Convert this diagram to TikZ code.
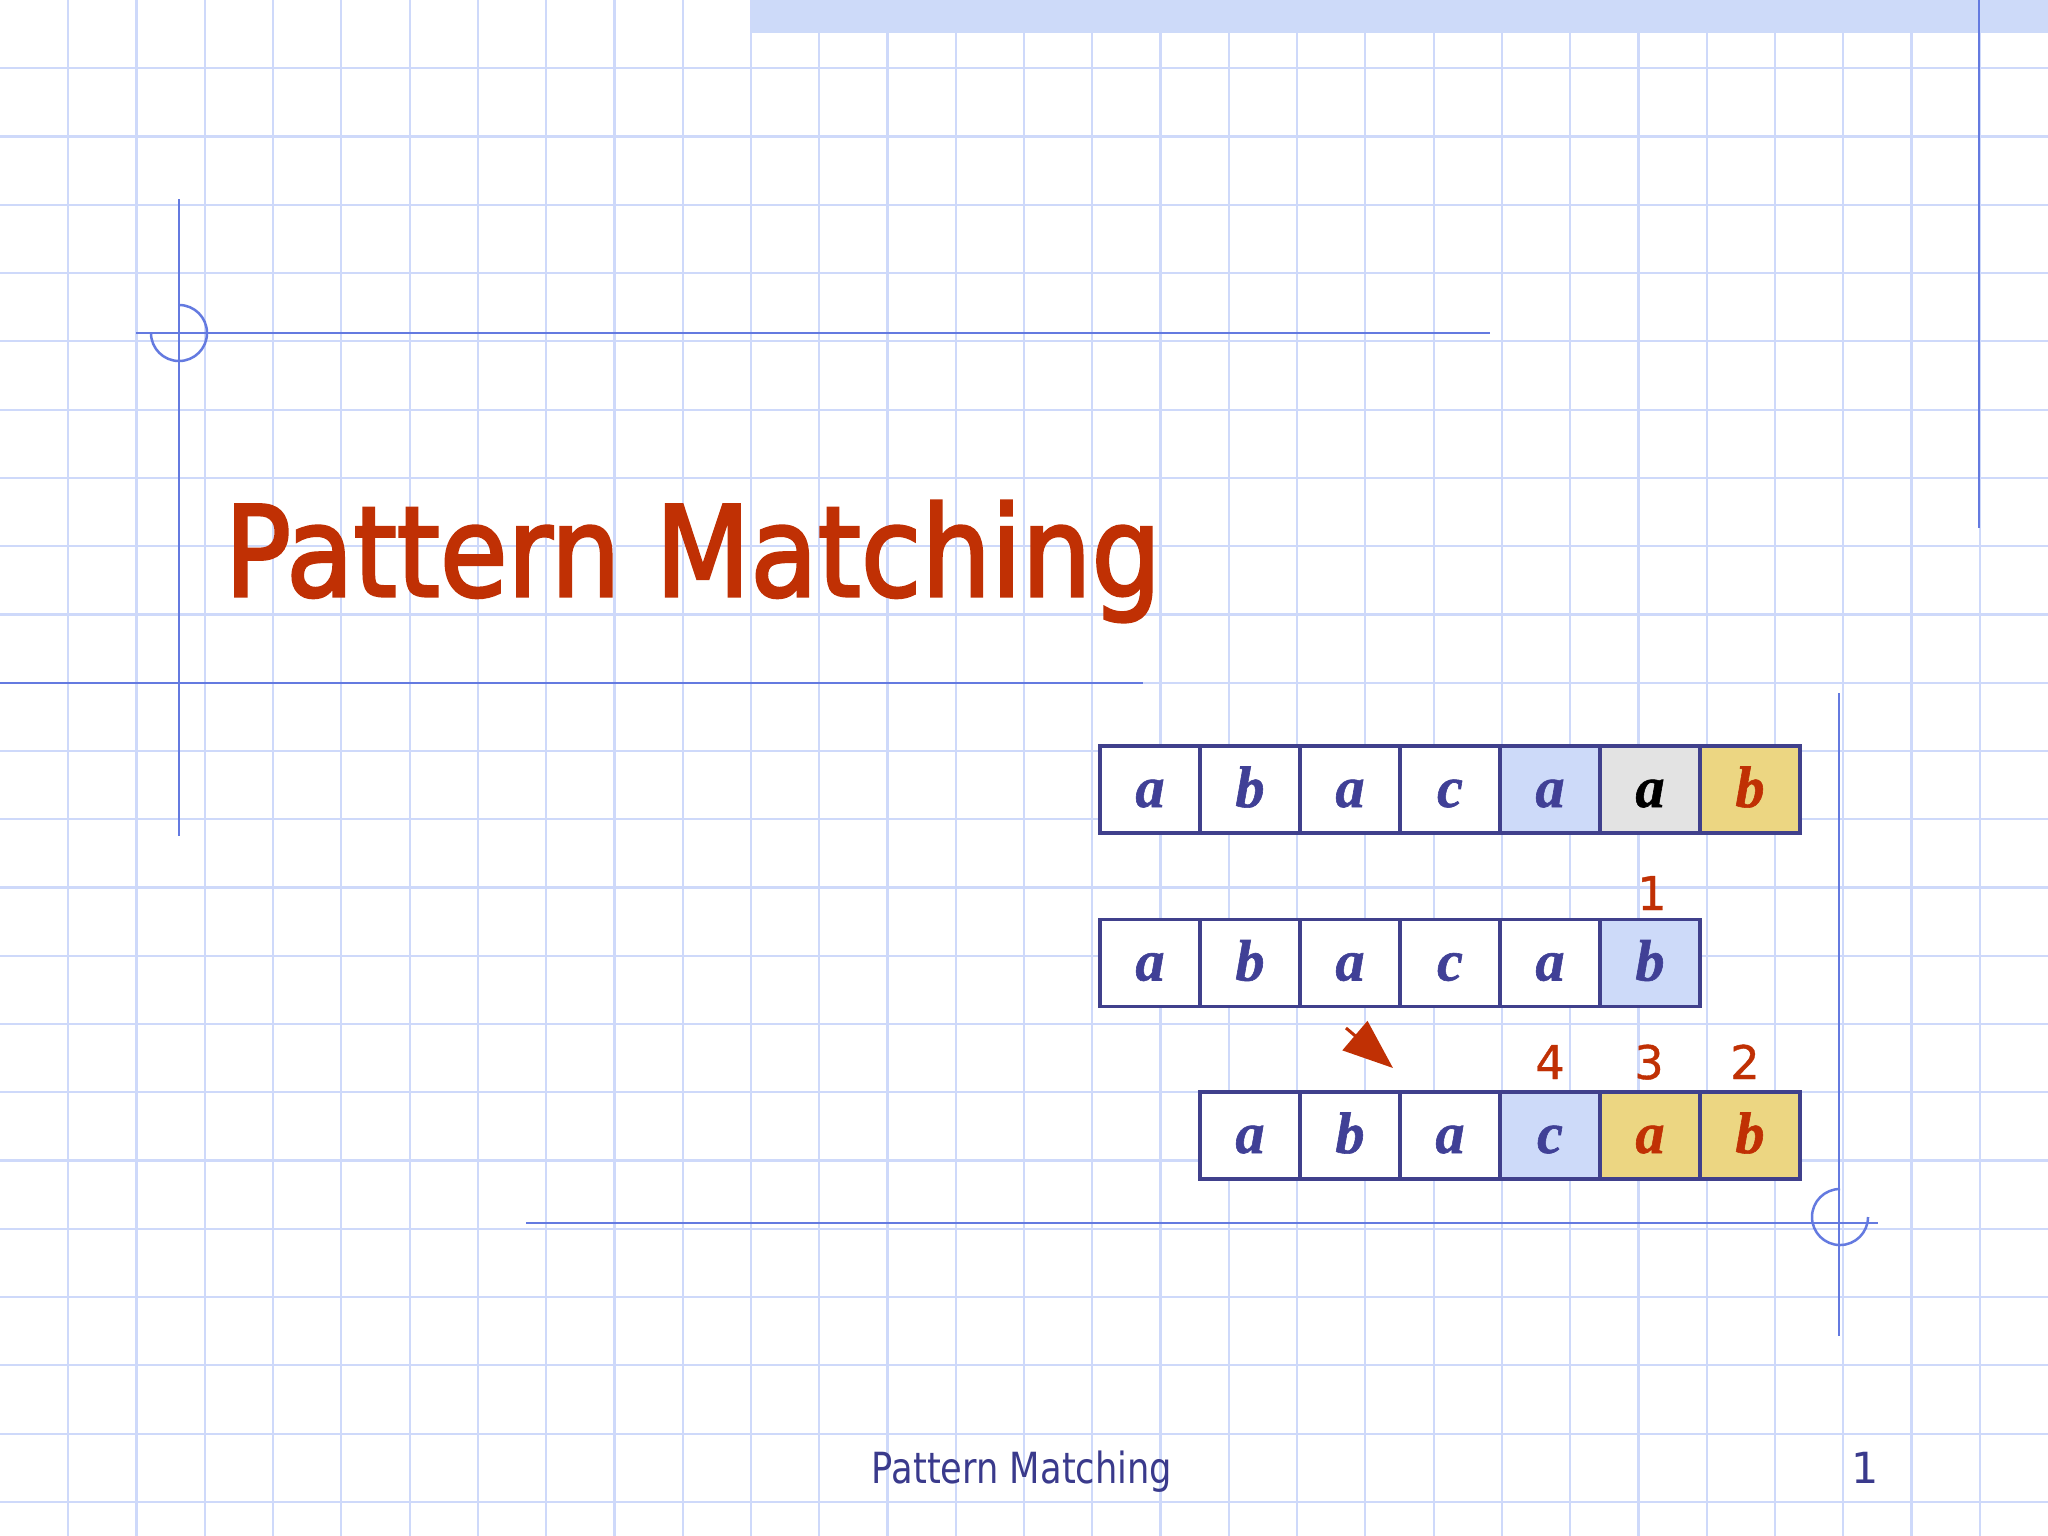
\documentclass[tikz,border=0pt]{standalone}
\usepackage{fontspec}
\usepackage{graphicx}
\setmainfont{Liberation Serif}
\newfontfamily\tahoma{DejaVu Sans}
\newfontfamily\tahomabold{DejaVu Sans}[FakeBold=2.5]
\newfontfamily\tahomamid{DejaVu Sans}[FakeBold=0.8]
\newfontfamily\cellfam{Liberation Serif}[BoldItalicFeatures={FakeBold=1}]
\usetikzlibrary{arrows.meta}
\definecolor{gridc}{RGB}{206,217,250}
\definecolor{barc}{RGB}{205,218,249}
\definecolor{accentc}{RGB}{100,122,224}
\definecolor{boxc}{RGB}{64,64,140}
\definecolor{letc}{RGB}{64,64,150}
\definecolor{redc}{RGB}{192,48,4}
\definecolor{footc}{RGB}{58,58,140}
\definecolor{lbluec}{RGB}{205,218,249}
\definecolor{grayc}{RGB}{227,227,227}
\definecolor{yellc}{RGB}{236,214,130}
\tikzset{
  gridline/.style={draw=gridc, line width=0.022cm},
  accent/.style={draw=accentc, line width=0.025cm},
  cell/.style={draw=boxc, fill=white, line width=0.035cm, minimum width=1cm, minimum height=0.865cm,
    inner sep=0pt, text height=0.40cm, text depth=0.05cm, text=letc,
    font=\cellfam\bfseries\itshape\fontsize{16.6pt}{18pt}\selectfont},
  bluecell/.style={cell, fill=lbluec},
  graycell/.style={cell, fill=grayc, text=black},
  yellcell/.style={cell, fill=yellc, text=redc},
  num/.style={anchor=base, inner sep=0pt, text=redc, font=\tahomamid\fontsize{13.2pt}{14pt}\selectfont},
  pointer/.style={draw=redc, line width=0.03cm, -{Triangle[length=0.50cm,width=0.38cm,fill=redc]}}
}
\begin{document}
\begin{tikzpicture}[x=0.01cm,y=-0.01cm]
\useasboundingbox (0,0) rectangle (2048,1536);
\fill[white] (0,0) rectangle (2048,1536);
% grid
\foreach \k in {1,...,29} \draw[gridline] ({\k*68.267},0) -- ({\k*68.267},1536);
\foreach \k in {1,...,22} \draw[gridline] (0,{\k*68.267}) -- (2048,{\k*68.267});
% top bar
\fill[barc] (751,0) rectangle (2048,33);
% accent lines
\draw[accent] (179,199) -- (179,836);
\draw[accent] (136,333) -- (1490,333);
\draw[accent] (0,683) -- (1143,683);
\draw[accent] (1979,0) -- (1979,528);
\draw[accent] (526,1223) -- (1878,1223);
\draw[accent] (1839,693) -- (1839,1336);
\coordinate (c1) at (179,333);
\coordinate (c2) at (1840,1217);
\draw[accent] (c1) ++(180:0.28cm) arc[start angle=180, end angle=450, radius=0.28cm];
\draw[accent] (c2) ++(90:0.28cm) arc[start angle=90, end angle=360, radius=0.28cm];
% title
\node[anchor=base west, inner sep=0pt, text=redc] (title) at (224,596)
  {\resizebox{9.36cm}{\height}{\tahomabold\fontsize{35.6pt}{40pt}\selectfont Pattern Matching}};
% row 1 (text)
\node[cell] (t1) at (1150,789.5) {a};
\node[cell] (t2) at (1250,789.5) {b};
\node[cell] (t3) at (1350,789.5) {a};
\node[cell] (t4) at (1450,789.5) {c};
\node[bluecell] (t5) at (1550,789.5) {a};
\node[graycell] (t6) at (1650,789.5) {a};
\node[yellcell] (t7) at (1750,789.5) {b};
% row 2 (pattern, first position)
\node[cell] (p1) at (1150,963) {a};
\node[cell] (p2) at (1250,963) {b};
\node[cell] (p3) at (1350,963) {a};
\node[cell] (p4) at (1450,963) {c};
\node[cell] (p5) at (1550,963) {a};
\node[bluecell] (p6) at (1650,963) {b};
% row 3 (pattern, shifted)
\node[cell] (q1) at (1250,1135.5) {a};
\node[cell] (q2) at (1350,1135.5) {b};
\node[cell] (q3) at (1450,1135.5) {a};
\node[bluecell] (q4) at (1550,1135.5) {c};
\node[yellcell] (q5) at (1650,1135.5) {a};
\node[yellcell] (q6) at (1750,1135.5) {b};
% numbers
\node[num] (n1) at (1652,910) {1};
\node[num] (n4) at (1550,1079) {4};
\node[num] (n3) at (1649,1079) {3};
\node[num] (n2) at (1745,1079) {2};
% arrow
\coordinate (atail) at (1346,1028);
\coordinate (ahead) at (1393,1068);
\draw[pointer] (atail) -- (ahead);
% footer
\node[anchor=base, inner sep=0pt, text=footc] (footer) at (1022,1483)
  {\resizebox{3.0cm}{\height}{\tahoma\fontsize{12.2pt}{14pt}\selectfont Pattern Matching}};
\node[anchor=base, inner sep=0pt, text=footc, font=\tahoma\fontsize{12.2pt}{14pt}\selectfont] (pageno) at (1865,1483) {1};
\end{tikzpicture}
\end{document}
